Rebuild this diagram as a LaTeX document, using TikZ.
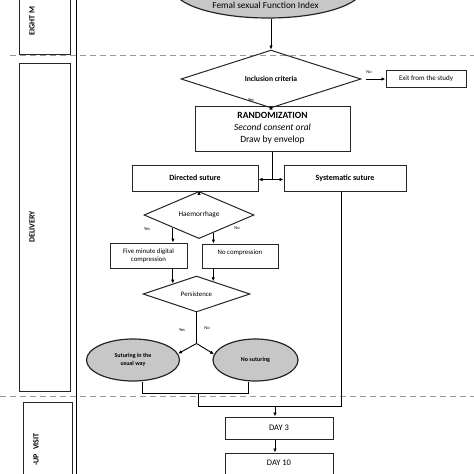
\documentclass[tikz,border=0pt]{standalone}
\usepackage{fontspec}
\setmainfont{Carlito}
\usetikzlibrary{shapes.geometric,arrows.meta,calc}
\begin{document}
\begin{tikzpicture}[x=1pt,y=-1pt,
  box/.style={draw=black!85, line width=1pt, rectangle, inner sep=0pt, align=center},
  dia/.style={draw=black!85, line width=1pt, diamond, inner sep=0pt, align=center},
  ell/.style={draw=black!85, line width=1.2pt, ellipse, fill=black!22, inner sep=0pt, align=center},
  conn/.style={line width=0.9pt, black},
  arr/.style={conn, -{Latex[length=4pt,width=3.5pt]}},
  lbl/.style={font=\fontsize{4.5}{5}\selectfont, inner sep=0pt},
  sep/.style={dash pattern=on 6pt off 4pt, black!40, line width=0.9pt},
  side/.style={font=\bfseries\fontsize{8}{9}\selectfont, rotate=90, inner sep=0pt}
]
\useasboundingbox (0,0) rectangle (474,474);
\clip (0,0) rectangle (474,474);

% separators and lane line
\draw[sep] (10,55) -- (474,55);
\draw[sep] (0,396) -- (474,396);
\draw[line width=1.8pt, black] (76.5,-5) -- (76.5,480);

% lane boxes
\node[box, minimum width=51pt, minimum height=74pt] (eight) at (44.5,17) {};
\node[box, minimum width=51pt, minimum height=328pt] (deliv) at (44.5,227) {};
\node[box, minimum width=49pt, minimum height=98pt] (follow) at (47.5,451) {};
\node[side, anchor=west] (eighttxt) at (32,36) {EIGHT M};
\node[side] (delivtxt) at (32,227) {DELIVERY};
\node[side, anchor=east] (followtxt) at (36,433) {-UP\hspace{2pt} VISIT};

% top ellipse
\node[ell, minimum width=190pt, minimum height=60pt] (top) at (268,-12) {};
\node[inner sep=0pt, font=\fontsize{9.3}{11}\selectfont] (toptxt) at (265.5,5) {Femal sexual Function Index};

% inclusion
\node[dia, minimum width=180pt, minimum height=32pt, font=\bfseries\fontsize{7.6}{9}\selectfont] (incl) at (271,79) {Inclusion criteria};
\node[box, minimum width=80pt, minimum height=17pt, font=\fontsize{7}{8}\selectfont] (exit) at (426,79) {Exit from the study};
\node[box, minimum width=155pt, minimum height=45pt, font=\fontsize{9.5}{12}\selectfont] (rand) at (272.5,128.5) {{\bfseries RANDOMIZATION}\\{\itshape Second consent oral}\\Draw by envelop};

% sutures
\node[box, minimum width=126pt, minimum height=26pt, font=\bfseries\fontsize{8}{9}\selectfont] (dir) at (195,178) {Directed suture};
\node[box, minimum width=122pt, minimum height=26pt, font=\bfseries\fontsize{8}{9}\selectfont] (sys) at (345,178) {Systematic suture};

\node[dia, minimum width=110pt, minimum height=30pt, font=\fontsize{7.3}{9}\selectfont] (haem) at (199,215) {Haemorrhage};
\node[box, minimum width=77pt, minimum height=25pt, font=\fontsize{6.8}{8}\selectfont] (five) at (148.5,255.5) {Five minute digital\\compression};
\node[box, minimum width=76pt, minimum height=24pt, font=\fontsize{6.8}{8}\selectfont] (nocomp) at (240,256) {No compression\\~};
\node[dia, minimum width=107pt, minimum height=30pt, font=\fontsize{6.8}{9}\selectfont] (pers) at (196.5,294) {Persistence};

\node[ell, minimum width=93pt, minimum height=42pt, font=\bfseries\fontsize{6}{8}\selectfont] (lell) at (133,360) {Suturing in the\\usual way};
\node[ell, minimum width=85pt, minimum height=42pt, font=\bfseries\fontsize{6}{8}\selectfont] (rell) at (255.5,360) {No suturing};

\node[box, minimum width=108pt, minimum height=22pt, font=\fontsize{8.5}{10}\selectfont] (day3) at (279,428) {DAY 3};
\node[box, minimum width=108pt, minimum height=30pt, font=\fontsize{8.5}{11}\selectfont] (day10) at (279,468) {DAY 10\\~};

% connectors
\draw[arr] (incl.north |- top.south) -- (incl.north);
\draw[arr] ($(incl.east)+(4,0)$) -- (exit.west);
\node[lbl] (nolbl1) at (369,72) {No};
\draw[arr] (incl.south) -- (incl.south |- rand.north);
\node[lbl] (yeslbl1) at (251,100) {Yes};

\coordinate (j1) at ($(rand.south)+(0,28)$);
\draw[conn] (rand.south) -- (j1);
\draw[arr] (j1) -- (j1 -| dir.east);
\draw[arr] (j1) -- (j1 -| sys.west);

\draw[arr] (haem.north |- dir.south) -- (haem.north);
\coordinate (h1) at ($(haem.south)!0.47!(haem.west)$);
\draw[arr] (h1) -- (h1 |- five.north);
\coordinate (h2) at ($(haem.south)!0.26!(haem.east)$);
\draw[arr] (h2) -- (h2 |- nocomp.north);
\node[lbl] (yeslbl2) at (147,229) {Yes};
\node[lbl] (nolbl2) at (237,228) {No};

\coordinate (p1) at ($(pers.north)!0.44!(pers.west)$);
\draw[arr] (p1 |- five.south) -- (p1);
\coordinate (p2) at ($(pers.north)!0.31!(pers.east)$);
\draw[arr] (p2 |- nocomp.south) -- (p2);

\coordinate (s) at ($(pers.south)+(0,31)$);
\draw[conn] (pers.south) -- (s);
\draw[arr] (s) -- (lell.8);
\draw[arr] (s) -- (rell.172);
\node[lbl] (yeslbl3) at (182,330) {Yes};
\node[lbl] (nolbl3) at (207,328) {No};

\coordinate (b1) at ($(lell.south)+(9,0)$);
\coordinate (b2) at ($(rell.south)+(-7.5,0)$);
\draw[conn] (b1) -- ++(0,12) -| (b2);
\coordinate (m) at ($(b1)+(56,12)$);
\coordinate (m2) at ($(m)+(0,13)$);
\coordinate (q) at ($(sys.south)+(-4,0)$);
\draw[conn] (m) -- (m2) -| (q);
\coordinate (d) at ($(day3.north)+(-4,0)$);
\draw[arr] (d |- m2) -- (d);
\draw[arr] ($(day3.south)+(-4,0)$) -- ($(day10.north)+(-4,0)$);
\end{tikzpicture}
\end{document}
